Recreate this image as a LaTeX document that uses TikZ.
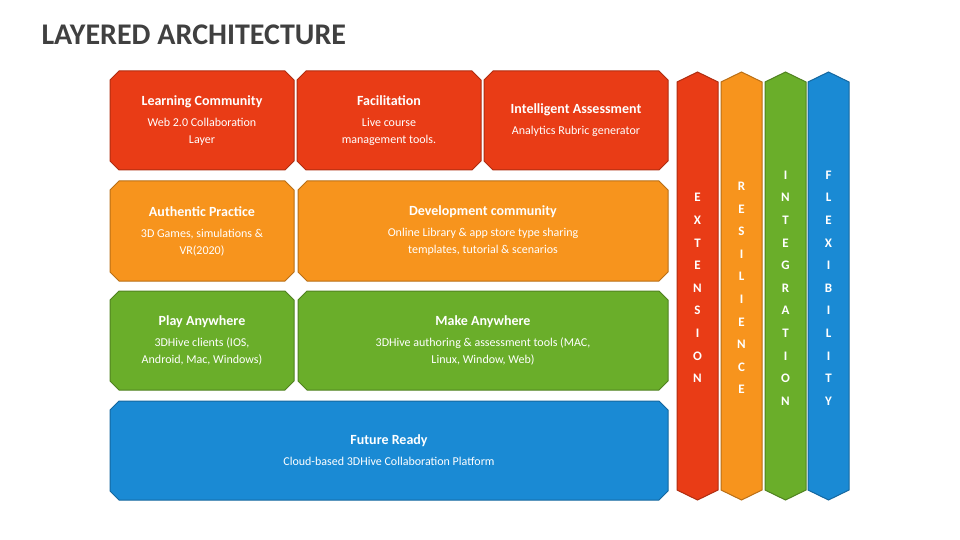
\documentclass[tikz,border=0pt]{standalone}
\usepackage{fontspec}
\setmainfont{Carlito}
\definecolor{cRed}{HTML}{E93C16}
\definecolor{cOrange}{HTML}{F7941D}
\definecolor{cGreen}{HTML}{6AAE2A}
\definecolor{cBlue}{HTML}{1A8AD4}
\newcommand{\layerbox}[7]{%
  \draw[fill=#6, draw=#6!75!black, line width=1pt]
    (#2+9,#3) -- (#4-9,#3) -- (#4,#3+9) -- (#4,#5-9) -- (#4-9,#5) -- (#2+9,#5)
    -- (#2,#5-9) -- (#2,#3+9) -- cycle;
  \node[layertext] (#1) at ({(#2+#4)/2},{(#3+#5)/2}) {#7};}
\tikzset{
  layertext/.style={text=white, align=center, inner sep=0pt, font=\fontsize{12}{17}\selectfont},
  bartext/.style={text=white, inner sep=0pt, font=\fontsize{13}{13}\selectfont\bfseries},
}
\newcommand{\ltitle}[1]{{\fontsize{14}{17}\selectfont\bfseries #1}\\[4pt]}
\begin{document}
\begin{tikzpicture}[x=1pt, y=-1pt]
\useasboundingbox (0,0) rectangle (960,540);

\node[anchor=west, text=black!75, font=\fontsize{30}{30}\selectfont\bfseries] (title) at (38,35) {LAYERED ARCHITECTURE};

% top row
\layerbox{learn}{110}{71}{294}{170}{cRed}{\ltitle{Learning Community}Web 2.0 Collaboration\\Layer}
\layerbox{facil}{297}{71}{481}{170}{cRed}{\ltitle{Facilitation}Live course\\management tools.}
\layerbox{assess}{484}{71}{668}{170}{cRed}{\ltitle{Intelligent Assessment}Analytics Rubric generator}

% second row
\layerbox{auth}{110}{181}{294}{281}{cOrange}{\ltitle{Authentic Practice}3D Games, simulations \&\\VR(2020)}
\layerbox{devel}{298}{181}{668}{281}{cOrange}{\ltitle{Development community}Online Library \& app store type sharing\\templates, tutorial \& scenarios}

% third row
\layerbox{play}{110}{291}{294}{390}{cGreen}{\ltitle{Play Anywhere}3DHive clients (IOS,\\Android, Mac, Windows)}
\layerbox{make}{298}{291}{668}{390}{cGreen}{\ltitle{Make Anywhere}3DHive authoring \& assessment tools (MAC,\\Linux, Window, Web)}

% bottom row
\layerbox{future}{110}{401}{668}{500}{cBlue}{\ltitle{Future Ready}Cloud-based 3DHive Collaboration Platform}

% vertical bars
\foreach \x/\col/\letters/\n in {677/cRed/{E,X,T,E,N,S,I,O,N}/9,
    721/cOrange/{R,E,S,I,L,I,E,N,C,E}/10,
    765/cGreen/{I,N,T,E,G,R,A,T,I,O,N}/11,
    808/cBlue/{F,L,E,X,I,B,I,L,I,T,Y}/11}{
  \draw[fill=\col, draw=\col!75!black, line width=1pt]
    (\x,82) -- (\x+20.5,72) -- (\x+41,82) -- (\x+41,490) -- (\x+20.5,500) -- (\x,490) -- cycle;
  \foreach \c [count=\i] in \letters
    \node[bartext] (bar\x-\i) at (\x+20.5,{288+(\i-(\n+1)/2)*22.6}) {\c};
}
\end{tikzpicture}
\end{document}
